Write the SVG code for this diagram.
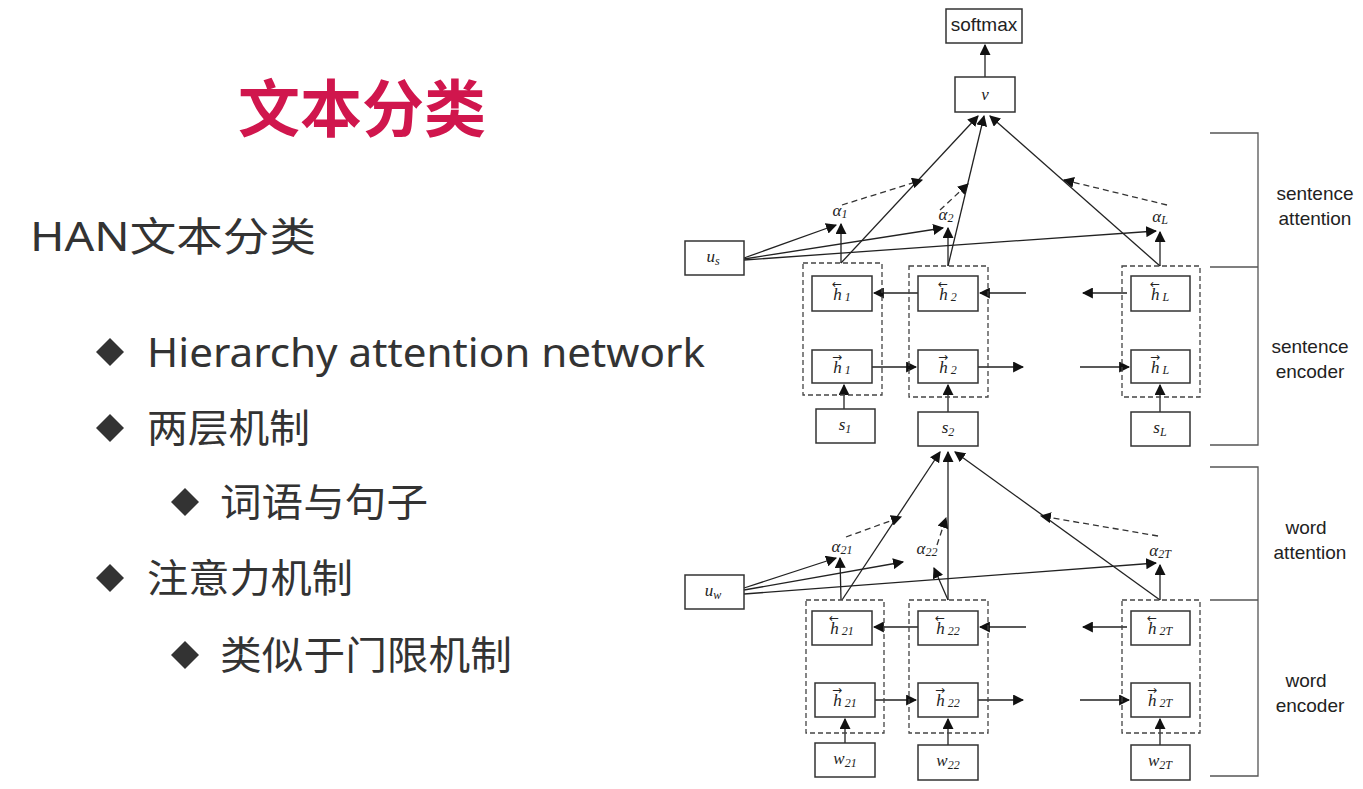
<svg xmlns="http://www.w3.org/2000/svg" width="1363" height="789" viewBox="0 0 1363 789">
<defs>
<marker id="ahs" viewBox="0 0 10 10" refX="9" refY="5" markerWidth="11" markerHeight="11" orient="auto" markerUnits="userSpaceOnUse"><path d="M0,0L10,5L0,10z" fill="#111"/></marker>
<style>
.b{fill:#fff;stroke:#333;stroke-width:1.5}
.d{fill:none;stroke:#444;stroke-width:1.3;stroke-dasharray:5,3}
.l{stroke:#222;stroke-width:1.3;fill:none;marker-end:url(#ahs)}
.ld{stroke:#333;stroke-width:1.3;fill:none;stroke-dasharray:6,4;marker-end:url(#ahs)}
.m{font-family:"Liberation Serif",serif;font-style:italic;font-size:17px;fill:#222;text-anchor:middle}
.sub{font-size:12px}
.ar{font-family:"DejaVu Sans",sans-serif;font-size:12px;fill:#222;text-anchor:middle}
.r{font-family:"Liberation Sans",sans-serif;font-size:19px;fill:#222;text-anchor:middle}
.t{font-family:"Noto Sans","Noto Sans CJK SC",sans-serif;fill:#333}
.br{stroke:#555;stroke-width:1.3;fill:none}
</style>
</defs>
<rect width="1363" height="789" fill="#fff"/>
<g id="title"><text x="362" y="132" text-anchor="middle" font-family="Noto Sans CJK SC,sans-serif" font-weight="bold" font-size="62" fill="#d0164d">文本分类</text></g>
<g id="text">
<text class="t" x="30" y="251" font-size="40" textLength="286" lengthAdjust="spacingAndGlyphs">HAN文本分类</text>
<path d="M110,338l14,14l-14,14l-14,-14z" fill="#333"/>
<text class="t" x="147" y="367" font-size="40" textLength="558" lengthAdjust="spacingAndGlyphs">Hierarchy attention network</text>
<path d="M110,414l14,14l-14,14l-14,-14z" fill="#333"/>
<text class="t" x="147" y="442" font-size="39" textLength="163" lengthAdjust="spacingAndGlyphs">两层机制</text>
<path d="M185,488l14,14l-14,14l-14,-14z" fill="#333"/>
<text class="t" x="220" y="516" font-size="39" textLength="208" lengthAdjust="spacingAndGlyphs">词语与句子</text>
<path d="M110,564l14,14l-14,14l-14,-14z" fill="#333"/>
<text class="t" x="147" y="592" font-size="39" textLength="206" lengthAdjust="spacingAndGlyphs">注意力机制</text>
<path d="M185,641l14,14l-14,14l-14,-14z" fill="#333"/>
<text class="t" x="220" y="669" font-size="39" textLength="292" lengthAdjust="spacingAndGlyphs">类似于门限机制</text>
</g>
<g id="brackets">
<path class="br" d="M1210,133H1258V445H1210M1210,267H1258"/>
<path class="br" d="M1210,467H1258V776H1210M1210,600H1258"/>
<text class="r" x="1315" y="200">sentence</text><text class="r" x="1315" y="225">attention</text>
<text class="r" x="1310" y="353">sentence</text><text class="r" x="1310" y="378">encoder</text>
<text class="r" x="1306" y="534">word</text><text class="r" x="1310" y="559">attention</text>
<text class="r" x="1306" y="687">word</text><text class="r" x="1310" y="712">encoder</text>
</g>
<g id="connectors">
<line class="l" x1="985" y1="77" x2="985" y2="45"/>
<line class="l" x1="841" y1="263" x2="978" y2="116"/>
<line class="l" x1="948" y1="266" x2="984" y2="116"/>
<line class="l" x1="1160" y1="266" x2="990" y2="116"/>
<line class="l" x1="841" y1="263" x2="841" y2="224"/>
<line class="l" x1="948" y1="266" x2="948" y2="228"/>
<line class="l" x1="1160" y1="266" x2="1160" y2="232"/>
<line class="l" x1="744" y1="258" x2="836" y2="225"/>
<line class="l" x1="744" y1="259" x2="943" y2="228"/>
<line class="l" x1="744" y1="260" x2="1156" y2="231"/>
<line class="ld" x1="842" y1="205" x2="922" y2="180"/>
<line class="ld" x1="940" y1="210" x2="968" y2="184"/>
<line class="ld" x1="1167" y1="205" x2="1064" y2="180"/>
<line class="l" x1="918" y1="293" x2="874" y2="293"/>
<line class="l" x1="1026" y1="293" x2="980" y2="293"/>
<line class="l" x1="1127" y1="293" x2="1083" y2="293"/>
<line class="l" x1="872" y1="367" x2="916" y2="367"/>
<line class="l" x1="978" y1="367" x2="1023" y2="367"/>
<line class="l" x1="1080" y1="367" x2="1129" y2="367"/>
<line class="l" x1="844" y1="409" x2="844" y2="385"/>
<line class="l" x1="948" y1="412" x2="948" y2="385"/>
<line class="l" x1="1160" y1="412" x2="1160" y2="385"/>
<line class="l" x1="842" y1="600" x2="940" y2="452"/>
<line class="l" x1="948" y1="600" x2="948" y2="452"/>
<line class="l" x1="1160" y1="600" x2="955" y2="452"/>
<line class="l" x1="841" y1="600" x2="840" y2="558"/>
<line class="l" x1="948" y1="600" x2="934" y2="568"/>
<line class="l" x1="1160" y1="600" x2="1160" y2="565"/>
<line class="l" x1="744" y1="588" x2="836" y2="558"/>
<line class="l" x1="744" y1="590" x2="903" y2="562"/>
<line class="l" x1="744" y1="594" x2="1156" y2="563"/>
<line class="ld" x1="846" y1="537" x2="901" y2="517"/>
<line class="ld" x1="937" y1="545" x2="946" y2="518"/>
<line class="ld" x1="1158" y1="536" x2="1041" y2="516"/>
<line class="l" x1="918" y1="627" x2="874" y2="627"/>
<line class="l" x1="1026" y1="627" x2="980" y2="627"/>
<line class="l" x1="1127" y1="627" x2="1083" y2="627"/>
<line class="l" x1="875" y1="700" x2="916" y2="700"/>
<line class="l" x1="978" y1="700" x2="1023" y2="700"/>
<line class="l" x1="1080" y1="700" x2="1129" y2="700"/>
<line class="l" x1="845" y1="743" x2="845" y2="719"/>
<line class="l" x1="948" y1="745" x2="948" y2="719"/>
<line class="l" x1="1160" y1="745" x2="1160" y2="719"/>
</g>
<g id="softmax"><rect class="b" x="946" y="9" width="76" height="34"/><text class="r" x="984" y="31" font-size="15">softmax</text></g>
<g id="v"><rect class="b" x="955" y="77" width="60" height="35"/><text class="m" x="985" y="100">v</text></g>
<g id="us"><rect class="b" x="685" y="241" width="59" height="34"/><text class="m" x="713" y="262">u<tspan class="sub" dy="3">s</tspan></text></g>
<g id="alphas">
<text class="m" x="840" y="216">α<tspan class="sub" dy="2">1</tspan></text>
<text class="m" x="946" y="220">α<tspan class="sub" dy="2">2</tspan></text>
<text class="m" x="1160" y="222">α<tspan class="sub" dy="2">L</tspan></text>
<text class="m" x="842" y="552">α<tspan class="sub" dy="2">21</tspan></text>
<text class="m" x="927" y="554">α<tspan class="sub" dy="2">22</tspan></text>
<text class="m" x="1160" y="556">α<tspan class="sub" dy="2">2T</tspan></text>
</g>
<g id="col1">
<rect class="d" x="803" y="263" width="79" height="132"/>
<rect class="b" x="812" y="276" width="60" height="35"/><text class="m" x="842" y="300">h<tspan class="sub" dx="3" dy="1">1</tspan></text><text class="ar" x="837" y="288">←</text>
<rect class="b" x="812" y="350" width="60" height="33"/><text class="m" x="842" y="373">h<tspan class="sub" dx="3" dy="1">1</tspan></text><text class="ar" x="837" y="361">→</text>
</g>
<g id="col2">
<rect class="d" x="909" y="266" width="79" height="131"/>
<rect class="b" x="918" y="276" width="60" height="35"/><text class="m" x="948" y="300">h<tspan class="sub" dx="3" dy="1">2</tspan></text><text class="ar" x="943" y="288">←</text>
<rect class="b" x="918" y="350" width="60" height="33"/><text class="m" x="948" y="373">h<tspan class="sub" dx="3" dy="1">2</tspan></text><text class="ar" x="943" y="361">→</text>
</g>
<g id="colL">
<rect class="d" x="1122" y="266" width="78" height="131"/>
<rect class="b" x="1131" y="276" width="59" height="35"/><text class="m" x="1160" y="300">h<tspan class="sub" dx="3" dy="1">L</tspan></text><text class="ar" x="1155" y="288">←</text>
<rect class="b" x="1131" y="350" width="59" height="33"/><text class="m" x="1160" y="373">h<tspan class="sub" dx="3" dy="1">L</tspan></text><text class="ar" x="1155" y="361">→</text>
</g>
<g id="s"><rect class="b" x="816" y="409" width="59" height="34"/><text class="m" x="845" y="430">s<tspan class="sub" dy="3">1</tspan></text>
<rect class="b" x="918" y="412" width="60" height="34"/><text class="m" x="948" y="433">s<tspan class="sub" dy="3">2</tspan></text>
<rect class="b" x="1131" y="412" width="59" height="34"/><text class="m" x="1160" y="433">s<tspan class="sub" dy="3">L</tspan></text></g>
<g id="uw"><rect class="b" x="685" y="575" width="59" height="34"/><text class="m" x="713" y="596">u<tspan class="sub" dy="3">w</tspan></text></g>
<g id="wcol1">
<rect class="d" x="806" y="600" width="78" height="133"/>
<rect class="b" x="812" y="611" width="60" height="34"/><text class="m" x="842" y="634">h<tspan class="sub" dx="3" dy="1">21</tspan></text><text class="ar" x="834" y="622">←</text>
<rect class="b" x="815" y="683" width="60" height="34"/><text class="m" x="845" y="706">h<tspan class="sub" dx="3" dy="1">21</tspan></text><text class="ar" x="837" y="694">→</text>
</g>
<g id="wcol2">
<rect class="d" x="909" y="600" width="79" height="133"/>
<rect class="b" x="918" y="611" width="60" height="34"/><text class="m" x="948" y="634">h<tspan class="sub" dx="3" dy="1">22</tspan></text><text class="ar" x="940" y="622">←</text>
<rect class="b" x="918" y="683" width="60" height="34"/><text class="m" x="948" y="706">h<tspan class="sub" dx="3" dy="1">22</tspan></text><text class="ar" x="940" y="694">→</text>
</g>
<g id="wcolT">
<rect class="d" x="1122" y="600" width="78" height="133"/>
<rect class="b" x="1131" y="611" width="59" height="34"/><text class="m" x="1160" y="634">h<tspan class="sub" dx="3" dy="1">2T</tspan></text><text class="ar" x="1152" y="622">←</text>
<rect class="b" x="1131" y="683" width="59" height="34"/><text class="m" x="1160" y="706">h<tspan class="sub" dx="3" dy="1">2T</tspan></text><text class="ar" x="1152" y="694">→</text>
</g>
<g id="w"><rect class="b" x="815" y="743" width="60" height="34"/><text class="m" x="845" y="764">w<tspan class="sub" dy="3">21</tspan></text>
<rect class="b" x="918" y="745" width="60" height="35"/><text class="m" x="948" y="766">w<tspan class="sub" dy="3">22</tspan></text>
<rect class="b" x="1131" y="745" width="59" height="35"/><text class="m" x="1160" y="766">w<tspan class="sub" dy="3">2T</tspan></text></g>
</svg>
